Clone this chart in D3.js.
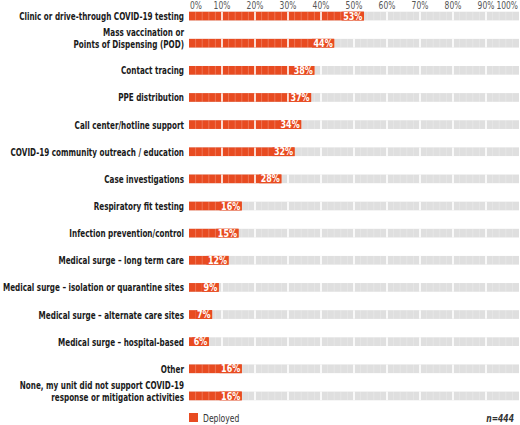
<!DOCTYPE html>
<html><head><meta charset="utf-8">
<script src="https://cdn.jsdelivr.net/npm/d3@7"></script>
<style>
body{margin:0;background:#fff;}
svg{display:block;}
text{font-family:"Liberation Sans Narrow","DejaVu Sans Condensed","Arial Narrow",sans-serif;}
</style></head>
<body><svg id="c" width="520" height="425"></svg>
<script>
const categories = [
  ["Clinic or drive-through COVID-19 testing"],
  ["Mass vaccination or","Points of Dispensing (POD)"],
  ["Contact tracing"],
  ["PPE distribution"],
  ["Call center/hotline support"],
  ["COVID-19 community outreach / education"],
  ["Case investigations"],
  ["Respiratory fit testing"],
  ["Infection prevention/control"],
  ["Medical surge – long term care"],
  ["Medical surge – isolation or quarantine sites"],
  ["Medical surge – alternate care sites"],
  ["Medical surge – hospital-based"],
  ["Other"],
  ["None, my unit did not support COVID-19","response or mitigation activities"]
];
const deployed = [53,44,38,37,34,32,28,16,15,12,9,7,6,16,16];
const tickValues = [0,10,20,30,40,50,60,70,80,90,100];
const tickLabels = ["0%","10%","20%","30%","40%","50%","60%","70%","80%","90%","100%"];
const seriesName = "Deployed";
const nLabel = "n=444";

const orange = "#e84b21", gray = "#dfdfdf";
const svg = d3.select("#c");
const x = d3.scaleLinear().domain([0,100]).range([189,519]);
const y = d3.scaleBand().domain(d3.range(categories.length)).range([2.5,409.5]).paddingInner(0.68).paddingOuter(0.34);
const bh = y.bandwidth();

svg.append("g").selectAll("text").data(tickValues).join("text")
  .attr("transform",(d,i)=>`translate(${i===0 ? x(d)+1 : i===tickValues.length-1 ? x(d)-1 : x(d)},8.5) scale(0.8,1)`)
  .attr("text-anchor",(d,i)=> i===0?"start": i===tickValues.length-1?"end":"middle")
  .attr("font-size",10.5).attr("fill","#555")
  .text((d,i)=>tickLabels[i]);

const rows = svg.append("g").selectAll("g").data(deployed).join("g")
  .attr("transform",(d,i)=>`translate(0,${y(i)})`);

rows.append("rect").attr("x",x(0)).attr("width",x(100)-x(0)).attr("height",bh).attr("fill",gray);
rows.append("rect").attr("x",x(0)).attr("width",d=>x(d)-x(0)).attr("height",bh).attr("fill",orange);
const minor = d3.range(2,100,2).filter(v=>v%10!==0);
rows.selectAll("line.m").data(minor).join("line").attr("class","m")
  .attr("x1",v=>x(v)).attr("x2",v=>x(v)).attr("y1",0).attr("y2",bh)
  .attr("stroke","#fff").attr("stroke-opacity",0.4).attr("stroke-width",0.6);
rows.selectAll("line.g").data(tickValues.slice(1,-1)).join("line").attr("class","g")
  .attr("x1",v=>x(v)).attr("x2",v=>x(v)).attr("y1",0).attr("y2",bh)
  .attr("stroke","#fff").attr("stroke-width",1.6);
const vbg = rows.append("rect").attr("height",bh).attr("fill",orange);
const vt = rows.append("text")
  .attr("transform",d=>`translate(${x(d)-1.5},${bh/2+3.6}) scale(0.85,1)`)
  .attr("text-anchor","end").attr("font-size",10.5).attr("font-weight","bold")
  .attr("fill","#fff").text(d=>d+"%");
vt.each(function(d,i){
  const w = this.getComputedTextLength()*0.85 + 3;
  d3.select(vbg.nodes()[i]).attr("x",x(d)-w).attr("width",w);
});

// category labels: one text element per line
const lineData = [];
categories.forEach((lines,i)=>{
  const n = lines.length;
  lines.forEach((s,k)=>lineData.push({s,i,off:(k-(n-1))*12 + (n>1?1:0)}));
});
const labs = svg.append("g").selectAll("text").data(lineData).join("text")
  .attr("font-size",11).attr("font-weight","bold").attr("fill","#1a1a1a")
  .attr("text-anchor","end").text(d=>d.s);
const ref = labs.filter(d=>d.i===0).node().getComputedTextLength();
const f = 165/ref;
labs.attr("transform",d=>`translate(184,${y(d.i)+bh/2+4+d.off}) scale(${f},1)`);

svg.append("rect").attr("x",189).attr("y",413).attr("width",9).attr("height",9).attr("fill",orange);
svg.append("text").attr("transform","translate(203,422) scale(0.85,1)").attr("font-size",10).attr("fill","#333").text(seriesName);
svg.append("text").attr("transform","translate(514,422) scale(0.85,1)").attr("text-anchor","end").attr("font-size",10)
  .attr("font-style","italic").attr("font-weight","bold").attr("fill","#333").text(nLabel);
</script></body></html>
